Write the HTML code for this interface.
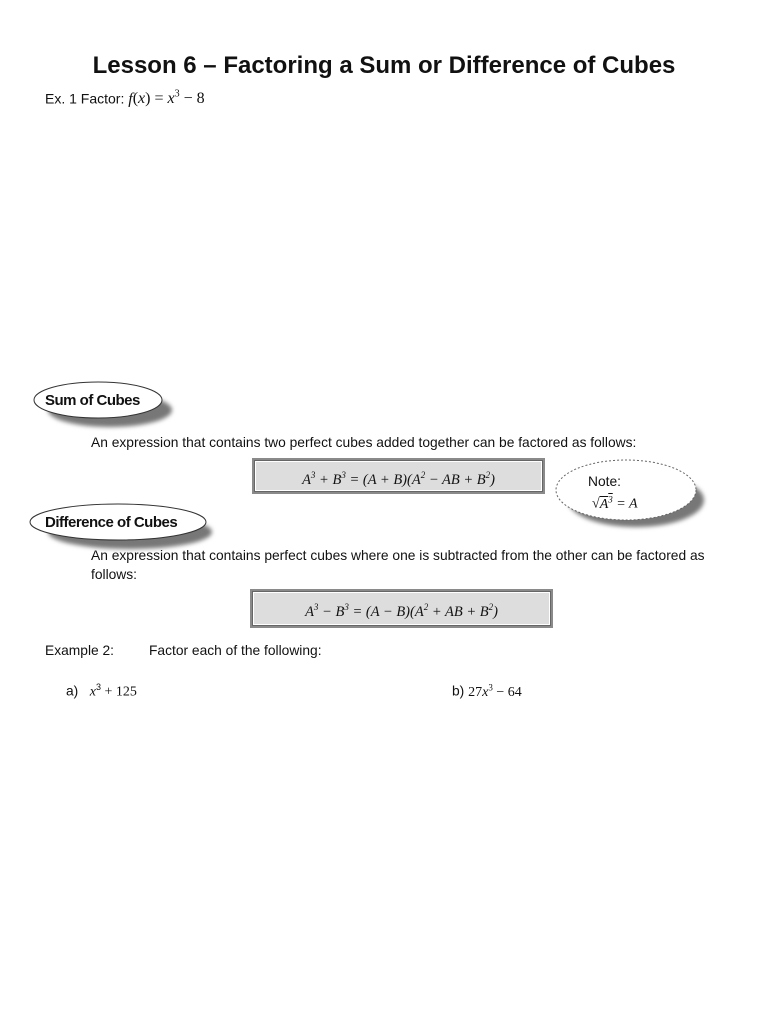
<!DOCTYPE html>
<html><head><style>
body{margin:0;width:768px;height:1024px;background:#fff;font-family:"Liberation Sans",sans-serif;color:#111;position:relative;overflow:hidden}
.a{position:absolute;white-space:nowrap}
.t{font-size:13.8px}
.m{font-family:"Liberation Serif",serif;font-style:italic;font-size:14px}
.box{position:absolute;background:#8a8a8a;padding:3px}
.box div{background:#ddd;border:1px solid #fff;outline:1px solid #666;height:100%;box-sizing:border-box;text-align:center;font-family:"Liberation Serif",serif;font-style:italic;font-size:14.5px}
</style></head><body>
<div class="a" style="left:0;width:768px;text-align:center;top:52px;font-size:24px;font-weight:bold;">Lesson 6 – Factoring a Sum or Difference of Cubes</div>
<div class="a t" style="left:45px;top:89px;font-size:14px">Ex. 1 Factor: <span class="m" style="font-size:16px">f</span><span style="font-family:'Liberation Serif',serif;font-size:16px">(<i>x</i>) = <i>x</i><sup style="font-size:10px">3</sup> − 8</span></div>

<svg class="a" style="left:0;top:0" width="768" height="1024">
<defs><filter id="b"><feGaussianBlur stdDeviation="2"/></filter></defs>
<g filter="url(#b)" fill="#777"><ellipse cx="110" cy="410" rx="62" ry="17"/><ellipse cx="130" cy="532" rx="82" ry="17"/><ellipse cx="636" cy="500" rx="68" ry="27"/></g>
<g fill="#fff" stroke="#333" stroke-width="1">
<ellipse cx="98" cy="400" rx="64" ry="18"/>
<ellipse cx="118" cy="522" rx="88" ry="18"/>
</g>
<ellipse cx="626" cy="490" rx="70" ry="30" fill="#fff" stroke="#666" stroke-dasharray="2,2"/>
</svg>
<div class="a" style="left:45px;top:392px;font-size:15px;font-weight:bold;letter-spacing:-0.5px">Sum of Cubes</div>
<div class="a" style="left:45px;top:514px;font-size:15px;font-weight:bold;letter-spacing:-0.5px">Difference of Cubes</div>
<div class="a t" style="left:91px;top:435px">An expression that contains two perfect cubes added together can be factored as follows:</div>
<div class="box" style="left:252px;top:458px;width:287px;height:30px"><div style="line-height:26px">A<sup style="font-size:9px">3</sup> + B<sup style="font-size:9px">3</sup> = (A + B)(A<sup style="font-size:9px">2</sup> − AB + B<sup style="font-size:9px">2</sup>)</div></div>
<div class="a t" style="left:588px;top:474px">Note:</div>
<div class="a m" style="left:592px;top:494px"><span style="font-style:normal">√</span><span style="text-decoration:overline">A<sup style="font-size:9px">3</sup></span> = A</div>
<div class="a t" style="left:91px;top:548px">An expression that contains perfect cubes where one is subtracted from the other can be factored as</div>
<div class="a t" style="left:91px;top:567px">follows:</div>
<div class="box" style="left:250px;top:589px;width:297px;height:33px"><div style="line-height:29px">A<sup style="font-size:9px">3</sup> − B<sup style="font-size:9px">3</sup> = (A − B)(A<sup style="font-size:9px">2</sup> + AB + B<sup style="font-size:9px">2</sup>)</div></div>
<div class="a t" style="left:45px;top:643px">Example 2:</div>
<div class="a t" style="left:149px;top:643px">Factor each of the following:</div>
<div class="a t" style="left:66px;top:682px">a)&nbsp;&nbsp; <span class="m">x</span><sup style="font-size:9px">3</sup><span style="font-family:'Liberation Serif',serif;font-size:14px"> + 125</span></div>
<div class="a t" style="left:452px;top:682px">b) <span style="font-family:'Liberation Serif',serif;font-size:14px">27<i>x</i><sup style="font-size:9px">3</sup> − 64</span></div>
</body></html>
